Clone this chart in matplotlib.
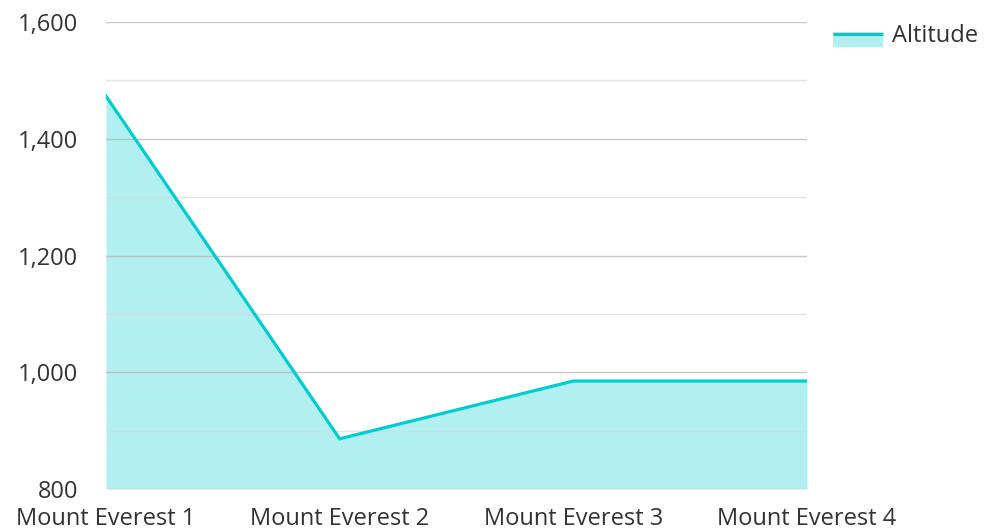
import matplotlib.pyplot as plt
from matplotlib.legend_handler import HandlerBase
from matplotlib.patches import Rectangle
from matplotlib.lines import Line2D

plt.rcParams['font.family'] = ['Open Sans', 'DejaVu Sans']

# data
categories = ["Mount Everest 1", "Mount Everest 2", "Mount Everest 3", "Mount Everest 4"]
altitude = [1473, 886, 985, 985]
y_ticks = [800, 1000, 1200, 1400, 1600]
y_minor = [900, 1100, 1300, 1500]

LINE = "#00cdd0"
TEXT = "#333333"
FS = 17


class AreaHandler(HandlerBase):
    # line on top of a light filled box, like the area legend in the reference
    def create_artists(self, legend, orig, xd, yd, w, h, fontsize, trans):
        mid = -yd + h / 2
        box = Rectangle((-xd, mid - 9.5), w, 10.5, facecolor=LINE, alpha=0.3,
                        edgecolor="none", transform=trans)
        ln = Line2D([-xd, -xd + w], [mid, mid], color=LINE, lw=2.3,
                    solid_capstyle="butt", transform=trans)
        return [box, ln]


fig = plt.figure(figsize=(9.85, 5.28), dpi=100)
ax = fig.add_axes([106 / 985, 39 / 528, 701 / 985, 467 / 528])

x = list(range(len(categories)))
ax.fill_between(x, altitude, 800, color=LINE, alpha=0.3, linewidth=0, zorder=1)
line, = ax.plot(x, altitude, color=LINE, lw=2.3, zorder=3, solid_joinstyle="miter")

for v in y_ticks:
    ax.axhline(v, color="#b0b0b0", lw=1, alpha=0.7, zorder=2)
for v in y_minor:
    ax.axhline(v, color="#d8d8d8", lw=1, alpha=0.7, zorder=2)

ax.set_xlim(0, len(categories) - 1)
ax.set_ylim(800, 1600)
ax.set_xticks(x)
ax.set_xticklabels(categories)
ax.set_yticks(y_ticks)
ax.set_yticklabels([f"{v:,}" for v in y_ticks])
ax.tick_params(length=0, labelsize=FS, labelcolor=TEXT)
ax.tick_params(axis="x", pad=13)
ax.tick_params(axis="y", pad=20)
for s in ax.spines.values():
    s.set_visible(False)

fig.legend([line], ["Altitude"], handler_map={line: AreaHandler()},
           loc="upper left", bbox_to_anchor=(833 / 985, 1 - 24 / 528), frameon=False,
           fontsize=FS, labelcolor=TEXT, handlelength=2.1, handletextpad=0.42,
           borderpad=0, borderaxespad=0)

fig.savefig("out.png", dpi=100)
